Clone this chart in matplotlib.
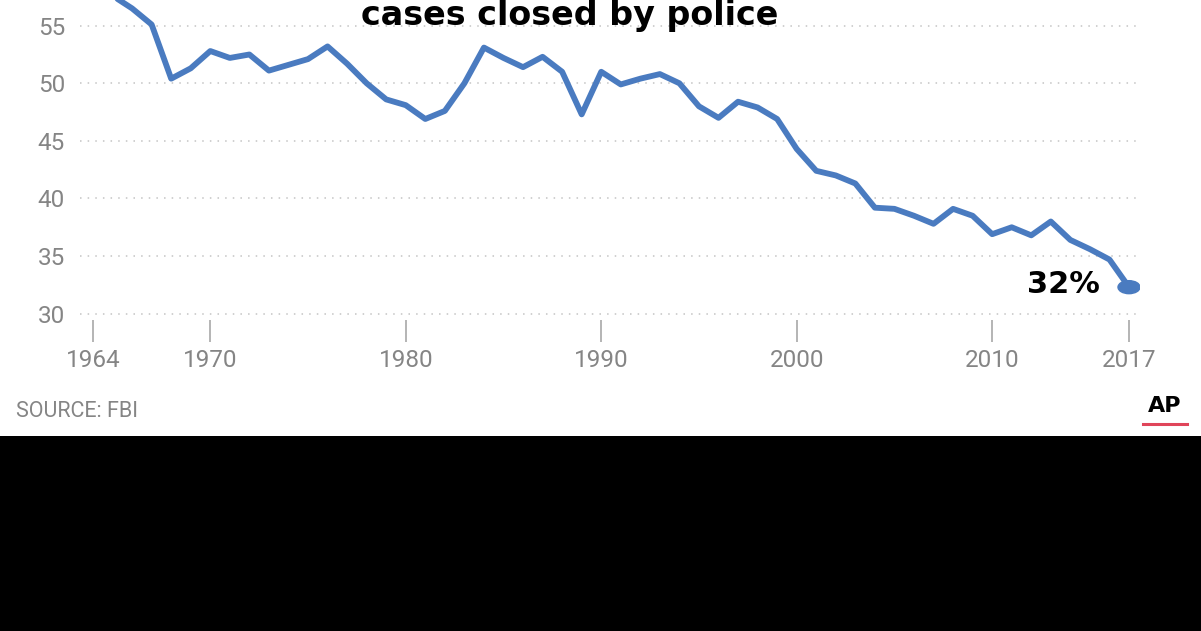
import matplotlib
matplotlib.use('Agg')
import matplotlib.pyplot as plt
from matplotlib.patches import Ellipse, Rectangle
from matplotlib.lines import Line2D

# clearance rate (%) by year
years = list(range(1964, 2018))
rate = [59.5, 57.6, 56.5, 55.1, 50.4, 51.3, 52.8, 52.2, 52.5, 51.1,
        51.6, 52.1, 53.2, 51.7, 50.0, 48.6, 48.1, 46.9, 47.6, 50.0,
        53.1, 52.2, 51.4, 52.3, 51.0, 47.3, 51.0, 49.9, 50.4, 50.8,
        50.0, 48.0, 47.0, 48.4, 47.9, 46.9, 44.3, 42.4, 42.0, 41.3,
        39.2, 39.1, 38.5, 37.8, 39.1, 38.5, 36.9, 37.5, 36.8, 38.0,
        36.4, 35.6, 34.7, 32.3]
xticks = [1964, 1970, 1980, 1990, 2000, 2010, 2017]
yticks = [30, 35, 40, 45, 50, 55]

W, H = 1201, 631
fig = plt.figure(figsize=(W / 100, H / 100), dpi=100)
fig.patch.set_facecolor('white')

# axes: left px 80, right px 1140, top px 0, bottom px 320
ax = fig.add_axes([80 / W, (H - 320) / H, 1060 / W, 320 / H])
ax.set_xlim(1963.335, 2017.563)
ax.set_ylim(29.45, 57.23)
for s in ax.spines.values():
    s.set_visible(False)

ax.plot(years, rate, color='#4a7bc0', lw=4.2, solid_joinstyle='round',
        solid_capstyle='round', zorder=3)
ax.add_patch(Ellipse((years[-1], rate[-1]), 22 / 19.547, 13 / 11.52,
                     color='#4a7bc0', zorder=4))
ax.annotate(f'{rate[-1]:.0f}%', (years[-1], rate[-1]), xytext=(-29, 3),
            textcoords='offset pixels', ha='right', va='center',
            fontsize=22, fontweight='heavy', color='black')

ax.set_yticks(yticks)
ax.set_xticks(xticks)
ax.yaxis.grid(True, color='#c4c4c4', lw=1.1, ls=(0, (1, 4)))
ax.xaxis.grid(False)
ax.tick_params(axis='y', length=0, pad=10.8, labelsize=17.5, labelcolor='#858585')
ax.tick_params(axis='x', length=15.8, width=1.1, color='#a0a0a0', direction='out',
               pad=5, labelsize=17.5, labelcolor='#858585')
for lab in ax.get_xticklabels() + ax.get_yticklabels():
    lab.set_fontfamily('Roboto')

fig.text(570 / W, (H - 25) / H, 'cases closed by police', ha='center', va='baseline',
         fontsize=24, fontweight='heavy', color='black')
fig.text(16 / W, (H - 417) / H, 'SOURCE: FBI', ha='left', va='baseline',
         fontsize=15.5, family='Roboto', color='#858585')
fig.text(1165 / W, (H - 412) / H, 'AP', ha='center', va='baseline',
         fontsize=16, fontweight='heavy', color='black')
fig.add_artist(Line2D([1143 / W, 1187 / W], [(H - 424) / H] * 2,
                      transform=fig.transFigure, color='#e0455a', lw=2.2))
fig.add_artist(Rectangle((0, 0), 1, 195 / H, transform=fig.transFigure,
                         facecolor='black', edgecolor='none'))

fig.savefig('out.png', dpi=100)
